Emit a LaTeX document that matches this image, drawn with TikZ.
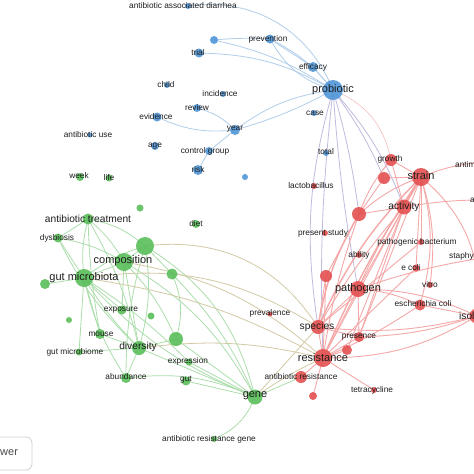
\documentclass[tikz,border=0pt]{standalone}
\usepackage{fontspec}
\setmainfont{Liberation Sans}
\definecolor{nb}{RGB}{80,150,215}
\definecolor{ng}{RGB}{90,190,90}
\definecolor{nr}{RGB}{228,80,80}
\definecolor{eb}{RGB}{178,206,235}
\definecolor{eg}{RGB}{172,222,172}
\definecolor{er}{RGB}{245,168,168}
\definecolor{ep}{RGB}{192,186,222}
\definecolor{eo}{RGB}{210,202,165}
\definecolor{txt}{RGB}{30,30,30}
\newcommand{\vdot}[3]{\node[#2, minimum size=#3pt] (d#1) at (#1) {};}
\newcommand{\vlab}[4]{\node[#2] (t#1) at ([shift={(#3)}]#1) {#4};}
\tikzset{
  dotb/.style={circle, fill=nb, inner sep=0pt, opacity=.9},
  dotg/.style={circle, fill=ng, inner sep=0pt, opacity=.9},
  dotr/.style={circle, fill=nr, inner sep=0pt, opacity=.9},
  lbl/.style={text=txt, inner sep=0pt, font=\fontsize{8.3}{9}\selectfont},
  lblm/.style={lbl, font=\fontsize{10.2}{11}\selectfont},
  lbll/.style={lbl, font=\fontsize{11}{12}\selectfont},
  be/.style={draw=eb, line width=.8pt},
  ge/.style={draw=eg, line width=.8pt},
  re/.style={draw=er, line width=.9pt},
  pe/.style={draw=ep, line width=.8pt},
  oe/.style={draw=eo, line width=.8pt},
}
\begin{document}
\begin{tikzpicture}[x=1pt,y=-1pt]
\useasboundingbox (0,0) rectangle (474,474);
\clip (0,0) rectangle (474,474);
\fill[white] (0,0) rectangle (474,474);
% ---------- coordinates ----------
% blue
\coordinate (aad) at (188,6);
\coordinate (dA) at (214,40);
\coordinate (trial) at (199,53);
\coordinate (prev) at (270,39);
\coordinate (effic) at (313,67);
\coordinate (prob) at (333,90);
\coordinate (child) at (167,85);
\coordinate (incid) at (223,94);
\coordinate (review) at (197,108);
\coordinate (evid) at (157,117);
\coordinate (year) at (235,130);
\coordinate (case) at (314,113);
\coordinate (abuse) at (90,135);
\coordinate (age) at (155,146);
\coordinate (cgroup) at (209,151);
\coordinate (risk) at (198,170);
\coordinate (total) at (326,153);
\coordinate (dB) at (245,177);
% green
\coordinate (week) at (80,177);
\coordinate (life) at (109,178);
\coordinate (gA) at (140,208);
\coordinate (abtreat) at (88,219);
\coordinate (diet) at (196,224);
\coordinate (dysb) at (58,238);
\coordinate (gbig) at (145,246);
\coordinate (comp) at (124,262);
\coordinate (gmb) at (84,278);
\coordinate (gB) at (45,284);
\coordinate (gC) at (172,274);
\coordinate (expo) at (122,310);
\coordinate (gD) at (151,316);
\coordinate (gE) at (69,320);
\coordinate (mouse) at (100,334);
\coordinate (gF) at (176,339);
\coordinate (div) at (139,348);
\coordinate (gmbiome) at (79,352);
\coordinate (expr) at (189,362);
\coordinate (abund) at (126,378);
\coordinate (gut) at (186,381);
\coordinate (gene) at (255,397);
\coordinate (arg) at (214,439);
% red
\coordinate (lacto) at (314,186);
\coordinate (growth) at (391,160);
\coordinate (rA) at (384,178);
\coordinate (strain) at (421,177);
\coordinate (antim) at (455,165);
\coordinate (antimd) at (492,162);
\coordinate (abact) at (470,200);
\coordinate (abactd) at (495,200);
\coordinate (activ) at (404,207);
\coordinate (rB) at (359,214);
\coordinate (pstudy) at (325,233);
\coordinate (pathb) at (421,242);
\coordinate (ability) at (359,255);
\coordinate (staph) at (449,256);
\coordinate (staphd) at (495,256);
\coordinate (rC) at (326,276);
\coordinate (ecoli) at (416,268);
\coordinate (vitro) at (430,285);
\coordinate (path) at (358,289);
\coordinate (esch) at (420,305);
\coordinate (isol) at (459,316);
\coordinate (isold) at (477,316);
\coordinate (preval) at (270,314);
\coordinate (species) at (318,327);
\coordinate (pres) at (359,337);
\coordinate (rD) at (347,350);
\coordinate (resist) at (323,358);
\coordinate (ares) at (301,377);
\coordinate (rE) at (313,396);
\coordinate (tetra) at (374,390);
% ---------- edges ----------
% blue
\draw[be] (aad) to[bend left=38] (prob);
\draw[be] (dA) to[bend left=10] (prob);
\draw[be] (trial) to[bend left=14] (prob);
\draw[be] (dA) to[bend left=4] (prev);
\draw[be] (prev) to[bend left=12] (prob);
\draw[be] (prev) to[bend right=22] (prob);
\draw[be] (prev) -- (effic);
\draw[be] (effic) -- (prob);
\draw[be] (year) to[bend left=14] (prob);
\draw[be] (year) to[bend right=6] (prob);
\draw[be] (review) to[bend left=15] (year);
\draw[be] (evid) to[bend right=15] (year);
\draw[be] (year) -- (cgroup) -- (risk);
\draw[er] (prob) to[bend left=28] (growth);
\draw[pe] (prob) to[bend right=12] (species);
\draw[pe] (prob) to[bend right=4] (resist);
\draw[pe] (prob) to[bend right=3] (path);
\draw[pe] (prob) to[bend left=4] (rB);
\draw[pe] (prob) to[bend left=10] (activ);
\draw[pe] (prob) to[bend left=6] (rA);
% green
\draw[ge] (abtreat) to[bend right=10] (gmb);
\draw[ge] (abtreat) to[bend left=10] (comp);
\draw[ge] (abtreat) to[bend left=15] (gbig);
\draw[ge] (abtreat) to[bend left=8] (div);
\draw[ge] (abtreat) to[bend right=4] (mouse);
\draw[ge] (abtreat) -- (dysb);
\draw[ge] (dysb) -- (gmb);
\draw[ge] (dysb) to[bend left=10] (comp);
\draw[ge] (dysb) to[bend right=10] (div);
\draw[ge] (gbig) -- (comp);
\draw[ge] (gbig) to[bend right=10] (gmb);
\draw[ge] (gbig) to[bend left=12] (div);
\draw[ge] (gbig) to[bend left=22] (gene);
\draw[ge] (gbig) -- (gC);
\draw[ge] (gbig) to[bend right=8] (abund);
\draw[ge] (comp) -- (gmb);
\draw[ge] (comp) -- (div);
\draw[ge] (comp) -- (expo);
\draw[ge] (comp) to[bend left=15] (gene);
\draw[ge] (comp) to[bend left=10] (gF);
\draw[ge] (gmb) to[bend right=6] (div);
\draw[ge] (gmb) -- (mouse);
\draw[ge] (gmb) -- (expo);
\draw[ge] (gmb) to[bend right=12] (gene);
\draw[ge] (gmb) to[bend right=10] (abund);
\draw[ge] (gmb) -- (gB);
\draw[ge] (gmb) -- (gmbiome);
\draw[ge] (gmb) to[bend left=6] (expr);
\draw[ge] (div) -- (gene);
\draw[ge] (div) -- (abund);
\draw[ge] (div) -- (gmbiome);
\draw[ge] (div) -- (mouse);
\draw[ge] (div) -- (gF);
\draw[ge] (gF) -- (gene);
\draw[ge] (gC) to[bend left=20] (gF);
\draw[ge] (gC) to[bend left=10] (gene);
\draw[ge] (expr) -- (gene);
\draw[ge] (gut) -- (gene);
\draw[ge] (abund) to[bend left=15] (gene);
\draw[ge] (gene) to[bend left=22] (arg);
\draw[ge] (gene) -- (ares);
\draw[oe] (gene) to[bend left=5] (resist);
\draw[oe] (gene) -- (species);
% cross
\draw[oe] (gbig) to[bend left=32] (species);
\draw[oe] (gmb) to[bend left=20] (species);
\draw[oe] (gmb) to[bend left=10] (resist);
\draw[oe] (comp) to[bend left=16] (resist);
\draw[oe] (div) to[bend left=10] (resist);
% red
\draw[re] (growth) -- (strain);
\draw[re] (growth) -- (activ);
\draw[re] (growth) to[bend right=10] (rB);
\draw[re] (rA) -- (strain);
\draw[re] (rA) -- (rB);
\draw[re, line width=1.8pt] (strain) -- (activ);
\draw[re] (strain) to[bend right=10] (rB);
\draw[re] (strain) -- (pathb);
\draw[re] (strain) -- (ecoli);
\draw[re] (strain) to[bend left=15] (esch);
\draw[re] (strain) to[bend left=12] (vitro);
\draw[re] (strain) to[bend right=5] (path);
\draw[re, line width=1.4pt] (strain) to[bend right=10] (species);
\draw[re, line width=1.4pt] (strain) to[bend right=5] (resist);
\draw[re] (strain) -- (pres);
\draw[re] (strain) to[bend left=10] (antimd);
\draw[re] (strain) to[bend left=28] (isold);
\draw[re] (activ) -- (rB);
\draw[re] (activ) -- (path);
\draw[re] (activ) to[bend right=5] (species);
\draw[re] (activ) -- (resist);
\draw[re] (activ) -- (pres);
\draw[re] (activ) -- (rD);
\draw[re] (activ) to[bend left=5] (abactd);
\draw[re, line width=1.4pt] (rB) to[bend right=10] (species);
\draw[re] (rB) to[bend right=5] (resist);
\draw[re] (rB) -- (rC);
\draw[re] (rC) -- (species);
\draw[re] (rC) -- (resist);
\draw[re] (path) -- (species);
\draw[re] (path) -- (resist);
\draw[re] (path) -- (pres);
\draw[re] (path) to[bend left=10] (esch);
\draw[re] (path) to[bend left=12] (isold);
\draw[re] (path) to[bend left=5] (staphd);
\draw[re] (species) -- (resist);
\draw[re] (species) -- (pres);
\draw[re] (species) to[bend right=10] (isold);
\draw[re] (resist) -- (pres);
\draw[re] (resist) -- (ares);
\draw[re] (resist) -- (tetra);
\draw[re] (resist) -- (rD);
\draw[re] (resist) -- (rE);
\draw[re] (resist) to[bend right=15] (isold);
\draw[re] (esch) -- (isold);
\draw[re] (esch) to[bend left=5] (resist);
\draw[re] (pres) to[bend right=8] (isold);
\draw[re] (ecoli) -- (resist);
\draw[re] (pathb) -- (species);
% ---------- dots ----------
\vdot{aad}{dotb}{6}
\vdot{dA}{dotb}{8}
\vdot{trial}{dotb}{9}
\vdot{prev}{dotb}{9}
\vdot{effic}{dotb}{10}
\vdot{prob}{dotb}{20}
\vdot{child}{dotb}{6}
\vdot{incid}{dotb}{6}
\vdot{review}{dotb}{8}
\vdot{evid}{dotb}{9}
\vdot{year}{dotb}{10}
\vdot{case}{dotb}{6}
\vdot{abuse}{dotb}{5}
\vdot{age}{dotb}{8}
\vdot{cgroup}{dotb}{8}
\vdot{risk}{dotb}{10}
\vdot{total}{dotb}{6}
\vdot{dB}{dotb}{6}
\vdot{week}{dotg}{8}
\vdot{life}{dotg}{7}
\vdot{gA}{dotg}{7}
\vdot{abtreat}{dotg}{11}
\vdot{diet}{dotg}{8}
\vdot{dysb}{dotg}{9}
\vdot{gbig}{dotg}{18}
\vdot{comp}{dotg}{18}
\vdot{gmb}{dotg}{18}
\vdot{gB}{dotg}{10}
\vdot{gC}{dotg}{11}
\vdot{expo}{dotg}{9}
\vdot{gD}{dotg}{7}
\vdot{gE}{dotg}{6}
\vdot{mouse}{dotg}{10}
\vdot{gF}{dotg}{14}
\vdot{div}{dotg}{14}
\vdot{gmbiome}{dotg}{7}
\vdot{expr}{dotg}{7}
\vdot{abund}{dotg}{10}
\vdot{gut}{dotg}{9}
\vdot{gene}{dotg}{15}
\vdot{arg}{dotg}{6}
\vdot{lacto}{dotr}{6}
\vdot{growth}{dotr}{12}
\vdot{rA}{dotr}{12}
\vdot{strain}{dotr}{18}
\vdot{activ}{dotr}{15}
\vdot{rB}{dotr}{14}
\vdot{pstudy}{dotr}{6}
\vdot{pathb}{dotr}{6}
\vdot{ability}{dotr}{6}
\vdot{rC}{dotr}{12}
\vdot{ecoli}{dotr}{7}
\vdot{vitro}{dotr}{6}
\vdot{path}{dotr}{16}
\vdot{esch}{dotr}{11}
\vdot{isold}{dotr}{15}
\vdot{preval}{dotr}{5}
\vdot{species}{dotr}{14}
\vdot{pres}{dotr}{10}
\vdot{rD}{dotr}{10}
\vdot{resist}{dotr}{18}
\vdot{ares}{dotr}{12}
\vdot{rE}{dotr}{8}
\vdot{tetra}{dotr}{6}
% ---------- labels ----------
\vlab{aad}{lbl}{-5,0}{antibiotic associated diarrhea}
\vlab{trial}{lbl}{-1,0}{trial}
\vlab{prev}{lbl}{-2,0}{prevention}
\vlab{effic}{lbl}{0,0}{efficacy}
\vlab{prob}{lbll}{0,0}{probiotic}
\vlab{child}{lbl}{-1,0}{child}
\vlab{incid}{lbl}{-3,0}{incidence}
\vlab{review}{lbl}{0,0}{review}
\vlab{evid}{lbl}{-1,0}{evidence}
\vlab{year}{lbl}{0,-1}{year}
\vlab{case}{lbl}{1,0}{case}
\vlab{abuse}{lbl}{-2,0}{antibiotic use}
\vlab{age}{lbl}{0,0}{age}
\vlab{cgroup}{lbl}{-4,0}{control group}
\vlab{risk}{lbl}{0,0}{risk}
\vlab{total}{lbl}{0,-1}{total}
\vlab{week}{lbl}{-1,-1}{week}
\vlab{life}{lbl}{0,0}{life}
\vlab{abtreat}{lblm}{0,0}{antibiotic treatment}
\vlab{diet}{lbl}{0,0}{diet}
\vlab{dysb}{lbl}{-1,0}{dysbiosis}
\vlab{comp}{lbll}{-1,-1}{composition}
\vlab{gmb}{lbll}{0,0}{gut microbiota}
\vlab{expo}{lbl}{-1,0}{exposure}
\vlab{mouse}{lbl}{1,0}{mouse}
\vlab{div}{lblm}{-1,-1}{diversity}
\vlab{gmbiome}{lbl}{-4,0}{gut microbiome}
\vlab{expr}{lbl}{-1,-1}{expression}
\vlab{abund}{lbl}{0,-1}{abundance}
\vlab{gut}{lbl}{0,-1}{gut}
\vlab{gene}{lbll}{0,-1}{gene}
\vlab{arg}{lbl}{-5,0}{antibiotic resistance gene}
\vlab{lacto}{lbl}{-3,0}{lactobacillus}
\vlab{growth}{lbl}{-1,-1}{growth}
\vlab{strain}{lbll}{0,-1}{strain}
\node[lbl, anchor=west] (tantim) at (antim) {antimicrobial};
\node[lbl, anchor=west] (tabact) at (abact) {antibacterial};
\vlab{activ}{lblm}{0,0}{activity}
\vlab{pstudy}{lbl}{-2,0}{present study}
\vlab{pathb}{lbl}{-4,0}{pathogenic bacterium}
\vlab{ability}{lbl}{0,0}{ability}
\node[lbl, anchor=west] (tstaph) at (staph) {staphylococcus aureus};
\vlab{ecoli}{lbl}{-5,0}{e coli}
\vlab{vitro}{lbl}{0,0}{vitro}
\vlab{path}{lbll}{0,0}{pathogen}
\vlab{esch}{lbl}{3,-1}{escherichia coli}
\node[lblm, anchor=west] (tisol) at (isol) {isolate};
\vlab{preval}{lbl}{0,-1}{prevalence}
\vlab{species}{lblm}{-1,0}{species}
\vlab{pres}{lbl}{0,0}{presence}
\vlab{resist}{lbll}{0,0}{resistance}
\vlab{ares}{lbl}{0,0}{antibiotic resistance}
\vlab{tetra}{lbl}{-2,0}{tetracycline}
% ---------- button ----------
\coordinate (btn) at (0,453);
\draw[draw=black!18, line width=.8pt, rounded corners=6pt] (-30,437) rectangle (32,470);
\node[anchor=west, inner sep=0pt, text=black!70, font=\fontsize{11}{12}\selectfont] (tbtn) at (btn) {wer};
\end{tikzpicture}
\end{document}
